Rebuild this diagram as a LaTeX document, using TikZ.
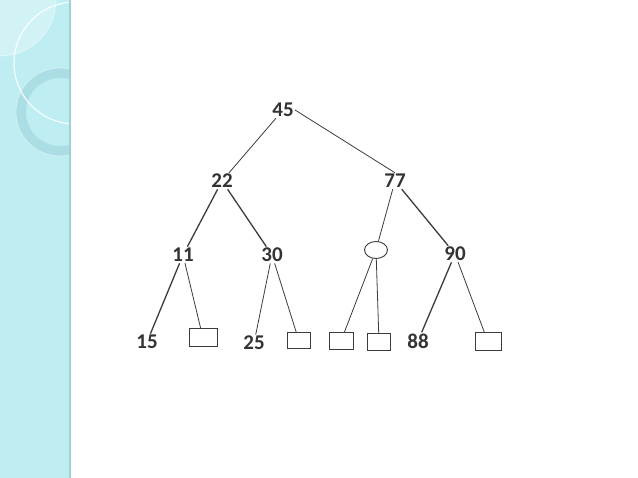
\documentclass[tikz,border=0pt]{standalone}
\usepackage{fontspec}
\setmainfont{Carlito}
\usetikzlibrary{shapes.geometric}
\definecolor{stripc}{HTML}{BEEEF2}
\definecolor{stripedge}{HTML}{9CD2D8}
\definecolor{ringc}{HTML}{A6DAE1}
\definecolor{inkc}{HTML}{333333}
\definecolor{linec}{HTML}{3C3C3C}
\tikzset{
  num/.style={font=\fontsize{21}{21}\selectfont\bfseries, text=inkc, inner sep=1.2pt},
  leafbox/.style={draw=linec, line width=1pt, rectangle, minimum width=#1, minimum height=17pt, inner sep=0pt},
  hole/.style={draw=linec, line width=0.9pt, ellipse, minimum width=23pt, minimum height=17pt, inner sep=0pt},
  thin/.style={draw=linec, line width=0.8pt},
  thick/.style={draw=linec, line width=1.3pt}
}
\begin{document}
\begin{tikzpicture}[x=1pt,y=-1pt]
\useasboundingbox (0,0) rectangle (638,478);
\fill[white] (0,0) rectangle (638,478);
% decorative strip
\begin{scope}
  \clip (0,0) rectangle (69,478);
  \fill[stripc] (0,0) rectangle (69,478);
  \fill[white,opacity=0.3] (0,0) circle[radius=56pt];
  \draw[white,opacity=0.5,line width=0.8pt] (0,0) circle[radius=56pt];
  \fill[ringc,opacity=0.8,even odd rule] (60,112) circle[radius=44pt] (60,112) circle[radius=34pt];
  \draw[white,opacity=0.4,line width=0.8pt] (60,112) circle[radius=44pt];
  \draw[white,opacity=0.85,line width=1.2pt] (75,63) circle[radius=61pt];
\end{scope}
\draw[stripedge,line width=1.5pt] (70,0) -- (70,478);
% nodes
\node[num] (n45) at (283,110) {45};
\node[num] (n22) at (222,181) {22};
\node[num] (n77) at (395,181) {77};
\node[num] (n11) at (183,255) {11};
\node[num] (n30) at (272,255) {30};
\node[hole] (h1) at (376,250) {};
\node[num] (n90) at (455,254) {90};
\node[num] (n15) at (147,342) {15};
\node[leafbox=28pt, minimum height=18pt] (b1) at (203,338) {};
\node[num] (n25) at (254,343) {25};
\node[leafbox=23pt, minimum height=16pt] (b2) at (299,341) {};
\node[leafbox=24pt] (b3) at (341,341) {};
\node[leafbox=23pt] (b4) at (379,342) {};
\node[num] (n88) at (418,341) {88};
\node[leafbox=26pt, minimum height=18pt] (b5) at (488,342) {};
% edges
\draw[thin] (n45) -- (n22);
\draw[thin] (n45.east) -- (n77.north);
\draw[thick] (n22) -- (n11);
\draw[thick] (n22) -- (n30);
\draw[thin] (n77) -- (h1);
\draw[thick] (n77) -- (n90);
\draw[thick] (n11) -- (n15);
\draw[thin] (n11) -- (b1);
\draw[thin] (n30) -- (n25);
\draw[thin] (n30) -- (b2);
\draw[thin] (h1) -- (b3);
\draw[thin] (h1) -- (b4);
\draw[thick] (n90) -- (n88);
\draw[thin] (n90) -- (b5);
\end{tikzpicture}
\end{document}
